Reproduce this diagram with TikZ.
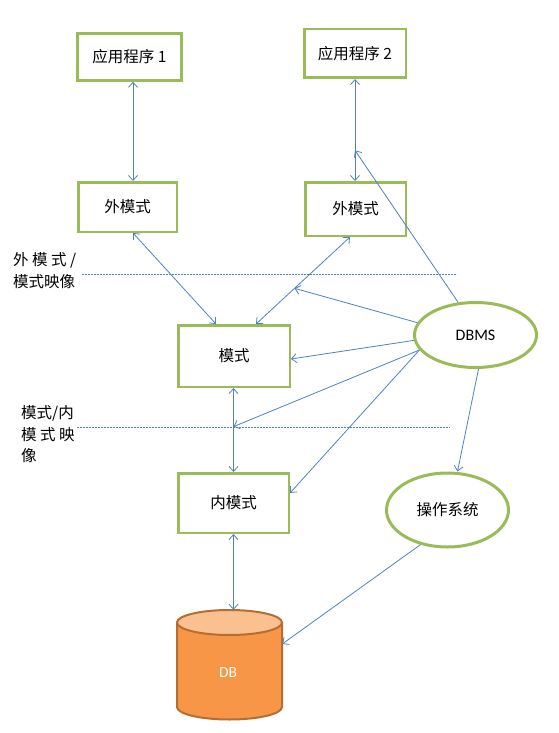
\documentclass[tikz,border=0pt]{standalone}
\usepackage{fontspec}
\setmainfont{Carlito}
\newfontfamily\cjk{Noto Sans CJK SC}
\usetikzlibrary{arrows.meta,shapes.geometric}
\definecolor{boxgreen}{RGB}{155,187,89}
\definecolor{lineblue}{RGB}{79,129,189}
\definecolor{dbfill}{RGB}{247,150,70}
\definecolor{dbtop}{RGB}{250,192,144}
\definecolor{dbedge}{RGB}{182,109,49}
\begin{document}
\begin{tikzpicture}[x=1pt,y=-1pt,
  box/.style={draw=boxgreen,line width=2.5pt,fill=white,inner sep=0pt,font=\cjk\fontsize{15.5}{18}\selectfont},
  oval/.style={ellipse,draw=boxgreen,line width=3pt,fill=white,inner sep=0pt},
  lbl/.style={anchor=west,inner sep=0pt,font=\cjk\fontsize{15.5}{18}\selectfont},
  conn/.style={draw=lineblue,line width=0.8pt,{Straight Barb[length=5pt,width=9pt]}-{Straight Barb[length=5pt,width=9pt]}},
  arr/.style={draw=lineblue,line width=0.8pt,-{Straight Barb[length=5pt,width=9pt]}},
  sep/.style={draw=lineblue,line width=0.7pt,dash pattern=on 2pt off 1pt}]
\useasboundingbox (0,0) rectangle (558,733);
% boxes
\node[box,minimum width=104pt,minimum height=47pt] (app1) at (129.5,57) {应用程序 1};
\node[box,minimum width=101.5pt,minimum height=48.5pt] (app2) at (355,53.5) {应用程序 2};
\node[box,minimum width=98.5pt,minimum height=49.5pt] (ext1) at (127.5,207) {外模式};
\node[box,minimum width=100.5pt,minimum height=53.5pt] (ext2) at (355.5,209) {外模式};
\node[box,minimum width=111.5pt,minimum height=61.5pt] (sch) at (234,356) {模式};
\node[box,minimum width=110.5pt,minimum height=59.5pt] (int) at (233.5,503) {内模式};
\node[oval,minimum width=122pt,minimum height=65pt,font=\fontsize{16}{19}\selectfont] (dbms) at (475.5,335) {DBMS};
\node[oval,minimum width=122pt,minimum height=74pt,font=\cjk\fontsize{15.5}{18}\selectfont] (os) at (447.5,510) {操作系统};
% DB cylinder
\node[minimum width=105pt,minimum height=108pt,inner sep=0pt] (db) at (229.5,664) {};
\fill[dbfill] (177,622.5) -- (177,707) arc[start angle=180,end angle=360,x radius=52.5pt,y radius=12.5pt] -- (282,622.5) -- cycle;
\draw[dbedge,line width=2pt] (177,622.5) -- (177,707) arc[start angle=180,end angle=360,x radius=52.5pt,y radius=12.5pt] -- (282,622.5);
\draw[dbedge,fill=dbtop,line width=2pt] (229.5,622.5) ellipse [x radius=52.5pt,y radius=12.5pt];
\node[text=white,font=\fontsize{15.5}{18}\selectfont] (dbl) at (228,673) {DB};
% separators
\draw[sep] (82,274) -- (457,274);
\draw[sep] (77,427) -- (450,427);
% labels
\node[lbl] (l1a) at (13,260) {外 模 式 /};
\node[lbl] (l1b) at (13,282) {模式映像};
\node[lbl] (l2a) at (21,413) {模式/内};
\node[lbl] (l2b) at (21,435) {模 式 映};
\node[lbl] (l2c) at (21,456) {像};
% connectors
\draw[conn] ([xshift=3.5pt]app1.south) -- ([xshift=3.5pt]app1.south |- ext1.north);
\draw[conn] (app2.south) -- coordinate[pos=0.7] (a2m) (app2.south |- ext2.north);
\draw[conn] ([xshift=5.5pt]ext1.south) -- ([xshift=-18pt]sch.north);
\draw[conn] ([xshift=-5.5pt]ext2.south) -- coordinate[pos=0.59] (e2m) ([xshift=22pt]sch.north);
\draw[conn] ([xshift=-0.5pt]sch.south) -- coordinate[pos=0.46] (sm) ([xshift=-0.5pt]sch.south |- int.north);
\draw[conn] (int.south) -- (int.south |- db.north);
\draw[arr] (dbms.118) -- (a2m);
\draw[arr] (dbms.168) -- (e2m);
\draw[arr] (dbms.185) -- ([yshift=-3pt]sch.east);
\draw[arr] (dbms.195) -- (sm);
\draw[arr] (dbms.195) -- ([yshift=10pt]int.east);
\draw[arr] ([xshift=3pt]dbms.south) -- ([xshift=10pt]os.north);
\draw[arr] (os.232) -- ([yshift=20pt]db.east);
\end{tikzpicture}
\end{document}
